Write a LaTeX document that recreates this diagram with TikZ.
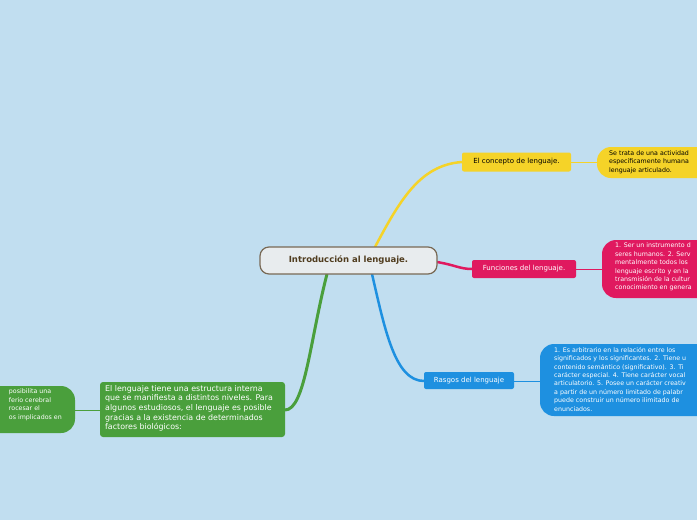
\documentclass[tikz,border=0pt]{standalone}
\usepackage{fontspec}
\setmainfont{DejaVu Sans}
\begin{document}
\begin{tikzpicture}[x=1pt,y=-1pt,
  sm/.style={font=\fontsize{6.3}{8.4}\selectfont,text=white,align=left,anchor=north west,inner sep=0pt},
  lab/.style={font=\fontsize{7}{8}\selectfont,anchor=center,inner sep=0pt}]
\useasboundingbox (0,0) rectangle (697,520);
\clip (0,0) rectangle (697,520);
\fill[fill={rgb,255:red,193;green,222;blue,240}] (0,0) rectangle (697,520);
\definecolor{colY}{RGB}{245,211,40}
\definecolor{colM}{RGB}{224,25,95}
\definecolor{colB}{RGB}{30,144,224}
\definecolor{colG}{RGB}{74,159,60}
% connectors
\draw[colY,line width=2.5pt] (375,247) .. controls (400,200) and (420,165) .. (462,162);
\draw[colM,line width=2.5pt] (437,262) .. controls (455,265) and (460,269) .. (472,269);
\draw[colB,line width=2.5pt] (372,274) .. controls (385,330) and (395,381) .. (424,381);
\draw[colG,line width=3pt] (327,274) .. controls (310,340) and (305,410) .. (285,410);
\draw[colY,line width=1pt] (571,162) -- (597,162);
\draw[colM,line width=1pt] (576,269) -- (602,269);
\draw[colB,line width=1pt] (514,381) -- (540,381);
\draw[colG,line width=1pt] (75,410) -- (100,410);
% center
\node[draw={rgb,255:red,120;green,105;blue,85},line width=1.2pt,fill={rgb,255:red,232;green,236;blue,238},rounded corners=9pt,minimum width=177pt,minimum height=27pt,font=\fontsize{8.5}{10}\selectfont\bfseries,text={rgb,255:red,80;green,60;blue,30}] (c) at (348.5,260.5) {Introducción al lenguaje.};
% main topics
\node[fill=colY,rounded corners=2pt,minimum width=109pt,minimum height=19pt,lab] (y) at (516.5,162) {El concepto de lenguaje.};
\node[fill=colM,rounded corners=2pt,minimum width=104pt,minimum height=18pt,lab,text=white] (m) at (524,269) {Funciones del lenguaje.};
\node[fill=colB,rounded corners=2pt,minimum width=90pt,minimum height=17pt,lab,text=white] (b) at (469,380.5) {Rasgos del lenguaje};
\fill[colG,rounded corners=3pt] (100,382) rectangle (285,437);
\node[sm,font=\fontsize{7.9}{9.6}\selectfont] (g) at (105,385) {El lenguaje tiene una estructura interna\\que se manifiesta a distintos niveles. Para\\algunos estudiosos, el lenguaje es posible\\gracias a la existencia de determinados\\factores biológicos:};
% detail boxes
\fill[colY,rounded corners=14pt] (597,147) rectangle (740,178);
\node[sm,text=black] (yd) at (609,150.5) {Se trata de una actividad\\específicamente humana\\lenguaje articulado.};
\fill[colM,rounded corners=14pt] (602,240) rectangle (740,298);
\node[sm] (md) at (615,243) {1. Ser un instrumento d\\seres humanos. 2. Serv\\mentalmente todos los\\lenguaje escrito y en la\\transmisión de la cultur\\conocimiento en genera};
\fill[colB,rounded corners=14pt] (540,344) rectangle (740,416);
\node[sm] (bd) at (554,347) {1. Es arbitrario en la relación entre los\\significados y los significantes. 2. Tiene u\\contenido semántico (significativo). 3. Ti\\carácter especial. 4. Tiene carácter vocal\\articulatorio. 5. Posee un carácter creativ\\a partir de un número limitado de palabr\\puede construir un número ilimitado de\\enunciados.};
\fill[colG,rounded corners=14pt] (-60,386) rectangle (75,433);
\node[sm,anchor=north east,align=left] (gd) at (62,389) {posibilita una\\ferio cerebral\\rocesar el\\os implicados en};
\end{tikzpicture}
\end{document}
